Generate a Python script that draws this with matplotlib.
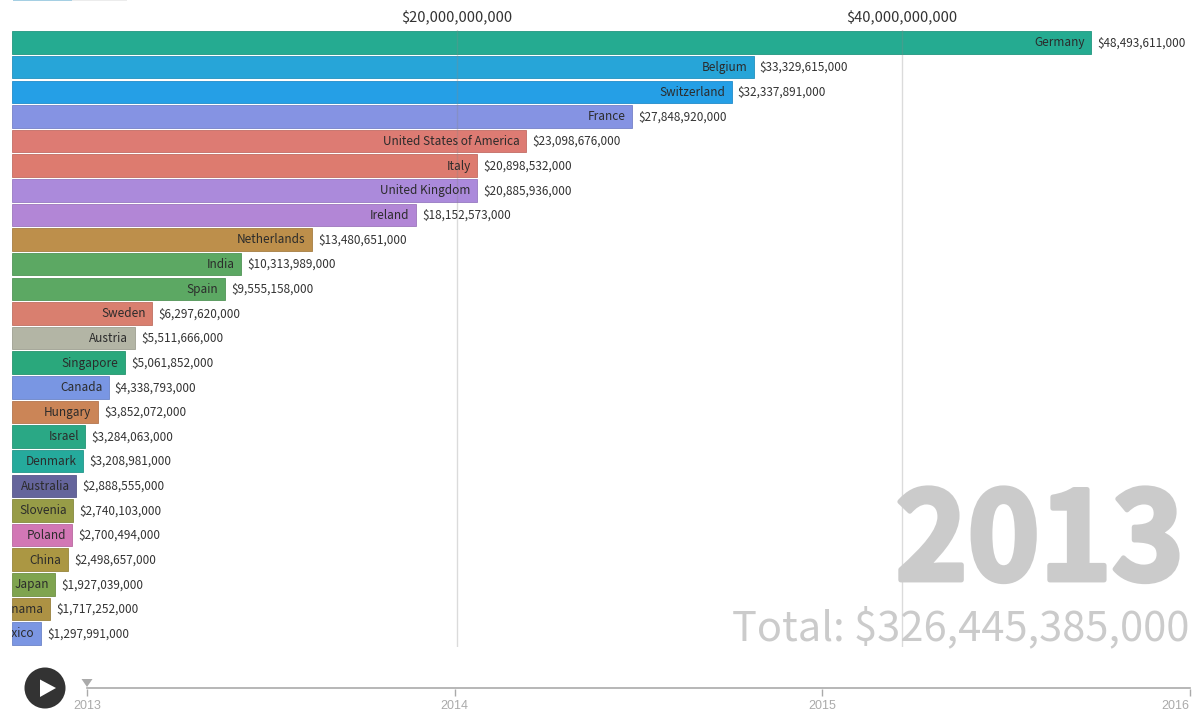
# Ranked horizontal bars of national totals for 2013, with a year timeline below
import matplotlib
matplotlib.use('Agg')
import matplotlib.pyplot as plt
import matplotlib.patheffects as pe
from matplotlib.patches import Circle, Polygon, Rectangle

plt.rcParams['font.family'] = ['Noto Sans CJK SC', 'DejaVu Sans']

W, H = 1200, 721

countries = ['Germany', 'Belgium', 'Switzerland', 'France', 'United States of America',
             'Italy', 'United Kingdom', 'Ireland', 'Netherlands', 'India', 'Spain',
             'Sweden', 'Austria', 'Singapore', 'Canada', 'Hungary', 'Israel', 'Denmark',
             'Australia', 'Slovenia', 'Poland', 'China', 'Japan', 'Panama', 'Mexico']
values = [48493611000, 33329615000, 32337891000, 27848920000, 23098676000,
          20898532000, 20885936000, 18152573000, 13480651000, 10313989000, 9555158000,
          6297620000, 5511666000, 5061852000, 4338793000, 3852072000, 3284063000, 3208981000,
          2888555000, 2740103000, 2700494000, 2498657000, 1927039000, 1717252000, 1297991000]
colors = ['#25ab91', '#27a5d8', '#259fe6', '#8593e3', '#dd7b73',
          '#dd7b6f', '#ab8adb', '#b286d6', '#bd8f4b', '#5ca863', '#5ca863',
          '#d97f6f', '#b3b5a5', '#2aa87c', '#7996e3', '#cb8557', '#2aa885', '#25aa9c',
          '#65659c', '#979c47', '#d277b5', '#ab9743', '#7fa44f', '#ad9244', '#7b96e3']
x_ticks = [20000000000, 40000000000]
x_tick_labels = ['$20,000,000,000', '$40,000,000,000']
years = [2013, 2014, 2015, 2016]
current_year = 2013
total = 326445385000


def darker(hex_color, f=0.88):
    r, g, b = matplotlib.colors.to_rgb(hex_color)
    return (r * f, g * f, b * f)


fig = plt.figure(figsize=(W / 100, H / 100), dpi=100, facecolor='white')

# main axes: x = 0 sits at pixel 12 and 1e9 spans 22.25 pixels
left, right, top, bottom = 12.0, 1189.0, 30.0, 647.0
ax = fig.add_axes([left / W, 1 - bottom / H, (right - left) / W, (bottom - top) / H])
ax.set_xlim(0, (right - left) / 22.25 * 1e9)
row = 24.625
ax.set_ylim((bottom - 42.5) / row, (top - 42.5) / row)
ax.patch.set_alpha(0)
for s in ax.spines.values():
    s.set_visible(False)

rows = list(range(len(countries)))
ax.barh(rows, values, height=22.5 / row, color=colors,
        edgecolor=[darker(c) for c in colors], linewidth=0.6, zorder=2)

ax.xaxis.tick_top()
ax.set_xticks(x_ticks)
ax.set_xticklabels(x_tick_labels, fontsize=10.6, color='#333333')
ax.tick_params(axis='x', length=0, pad=3.5)
ax.set_yticks([])
for t in x_ticks:
    ax.axvline(t, color='#888888', alpha=0.3, linewidth=1, zorder=3)

for i, (name, v) in enumerate(zip(countries, values)):
    ax.annotate(name, (v, i), xytext=(-4.5, -0.3), textcoords='offset points',
                ha='right', va='center', fontsize=8.5, color='#2b2b2b',
                annotation_clip=False, clip_on=True, zorder=4)
    ax.annotate(f'${v:,}', (v, i), xytext=(4.5, -0.3), textcoords='offset points',
                ha='left', va='center', fontsize=8.5, color='#333333', zorder=4)

# big year and total, right aligned over the chart
over = fig.add_axes([0, 0, 1, 1])
over.set_xlim(0, W)
over.set_ylim(H, 0)
over.axis('off')
over.text(1184, 580, str(current_year), ha='right', va='baseline', fontsize=88,
          fontweight='bold', color='#cbcbcb',
          path_effects=[pe.withStroke(linewidth=3.5, foreground='#cbcbcb')])
over.text(1189, 640, f'Total: ${total:,}', ha='right', va='baseline', fontsize=30,
          color='#cbcbcb')

# partly loaded strip along the top edge
over.add_patch(Rectangle((13, 0), 59, 1.2, color='#a5cfe3', lw=0))
over.add_patch(Rectangle((72, 0), 55, 1.0, color='#ececec', lw=0))

# play button
over.add_patch(Circle((45, 688), 20.5, color='#333333', lw=0))
over.add_patch(Polygon([[40, 679.5], [40, 697], [56, 688]], color='white', lw=0))

# timeline
tl = fig.add_axes([87 / W, 1 - 688.5 / H, (1189.5 - 87) / W, 0.5 / H])
tl.set_xlim(years[0], years[-1])
tl.patch.set_alpha(0)
for name in ['left', 'right', 'bottom']:
    tl.spines[name].set_visible(False)
tl.spines['top'].set_color('#aaaaaa')
tl.spines['top'].set_linewidth(1.2)
tl.set_yticks([])
tl.set_xticks(years)
tl.set_xticklabels([str(y) for y in years], fontsize=9, color='#aaaaaa',
                   family='Liberation Sans')
tl.get_xticklabels()[-1].set_ha('right')
tl.tick_params(axis='x', length=5, width=1, color='#aaaaaa', pad=3)
over.add_patch(Polygon([[81.5, 679], [92.5, 679], [87, 687]], color='#aaaaaa', lw=0))

fig.savefig('out.png', dpi=100)
